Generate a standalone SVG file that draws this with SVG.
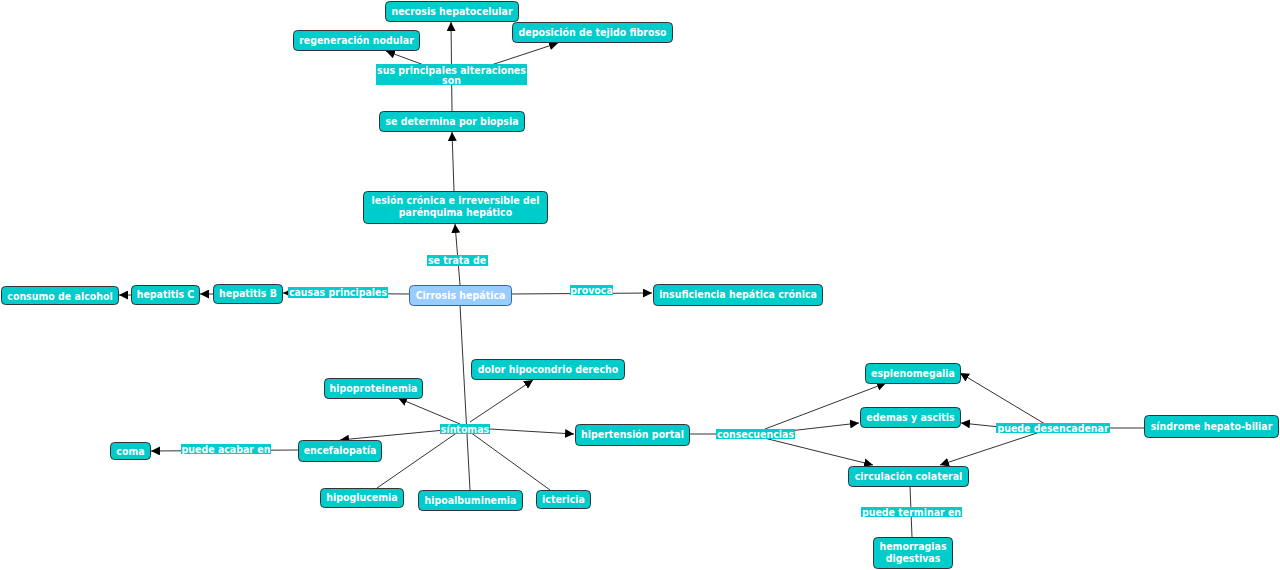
<svg xmlns="http://www.w3.org/2000/svg" width="1280" height="570" viewBox="0 0 1280 570">
<defs>
<marker id="ah" viewBox="0 0 10 10" refX="10" refY="5" markerWidth="9" markerHeight="9" markerUnits="userSpaceOnUse" orient="auto">
<path d="M0,0 L10,5 L0,10 z" fill="#000"/>
</marker>
<style>
.n rect{fill:#00cccc;stroke:#333;stroke-width:1}
.n.root rect{fill:#99ccff;stroke:#336699}
text{font-family:"DejaVu Sans Condensed","DejaVu Sans",sans-serif;font-stretch:condensed;font-weight:bold;font-size:10.5px;fill:#fff;text-anchor:middle}
.c line{stroke:#333;stroke-width:1;fill:none}
.a{marker-end:url(#ah)}
.l rect{fill:#00cccc}
</style>
</defs>
<rect width="1280" height="570" fill="#fff"/>
<g class="c">
<line x1="460" y1="285" x2="455" y2="224" class="a"/>
<line x1="454" y1="191" x2="452" y2="132" class="a"/>
<line x1="452" y1="111" x2="451" y2="22" class="a"/>
<line x1="432" y1="68" x2="386" y2="51" class="a"/>
<line x1="470" y1="72" x2="558" y2="43" class="a"/>
<line x1="409" y1="294" x2="283" y2="293" class="a"/>
<line x1="213" y1="294" x2="200" y2="294" class="a"/>
<line x1="131" y1="295" x2="119" y2="295" class="a"/>
<line x1="511" y1="294" x2="652" y2="293" class="a"/>
<line x1="460" y1="305" x2="470" y2="490"/>
<line x1="470" y1="422" x2="533" y2="380" class="a"/>
<line x1="460" y1="424" x2="398" y2="398" class="a"/>
<line x1="445" y1="430" x2="340" y2="440" class="a"/>
<line x1="490" y1="429" x2="574" y2="434" class="a"/>
<line x1="458" y1="432" x2="377" y2="488"/>
<line x1="470" y1="432" x2="550" y2="490"/>
<line x1="298" y1="450" x2="151" y2="451" class="a"/>
<line x1="689" y1="434" x2="716" y2="434"/>
<line x1="765" y1="429" x2="886" y2="383" class="a"/>
<line x1="780" y1="432" x2="859" y2="423" class="a"/>
<line x1="760" y1="437" x2="873" y2="465" class="a"/>
<line x1="1144" y1="428" x2="1110" y2="428"/>
<line x1="1045" y1="424" x2="960" y2="373" class="a"/>
<line x1="1000" y1="427" x2="961" y2="423" class="a"/>
<line x1="1040" y1="432" x2="940" y2="465" class="a"/>
<line x1="910" y1="486" x2="912" y2="537"/>
</g>
<g id="lbl-sus" class="l"><rect x="376" y="64" width="151" height="21"/><text x="451.5" y="73.5">sus principales alteraciones</text><text x="451.5" y="84">son</text></g>
<g id="lbl-trata" class="l"><rect x="427" y="255" width="61" height="11"/><text x="457" y="264">se trata de </text></g>
<g id="lbl-causas" class="l"><rect x="288" y="287" width="100" height="11"/><text x="338" y="296">causas principales</text></g>
<g id="lbl-provoca" class="l"><rect x="570" y="285" width="43" height="10"/><text x="591.5" y="294">provoca</text></g>
<g id="lbl-sintomas" class="l"><rect x="440" y="424" width="50" height="10"/><text x="465" y="433">síntomas</text></g>
<g id="lbl-acabar" class="l"><rect x="181" y="444" width="90" height="10"/><text x="226" y="453">puede acabar en</text></g>
<g id="lbl-consec" class="l"><rect x="716" y="429" width="79" height="10"/><text x="755.5" y="438">consecuencias</text></g>
<g id="lbl-desenc" class="l"><rect x="996" y="423" width="114" height="10"/><text x="1053" y="432">puede desencadenar</text></g>
<g id="lbl-terminar" class="l"><rect x="861" y="507" width="101" height="10"/><text x="911.5" y="516">puede terminar en</text></g>
<g id="n-necrosis" class="n"><rect x="385.5" y="1.5" width="133" height="20" rx="4"/><text x="452" y="14.5">necrosis hepatocelular</text></g>
<g id="n-regeneracion" class="n"><rect x="293.5" y="30.5" width="126" height="20" rx="4"/><text x="356.5" y="43.5">regeneración nodular</text></g>
<g id="n-deposicion" class="n"><rect x="512.5" y="22.5" width="160" height="20" rx="4"/><text x="592.5" y="35.5">deposición de tejido fibroso</text></g>
<g id="n-biopsia" class="n"><rect x="379.5" y="111.5" width="145" height="20" rx="4"/><text x="452" y="124.5">se determina por biopsia</text></g>
<g id="n-lesion" class="n"><rect x="363.5" y="191.5" width="184" height="32" rx="4"/><text x="455.5" y="204">lesión crónica e irreversible del</text><text x="455.5" y="216">parénquima hepático</text></g>
<g id="n-cirrosis" class="n root"><rect x="409.5" y="285.5" width="102" height="20" rx="4"/><text x="460.5" y="298.5">Cirrosis hepática</text></g>
<g id="n-hepB" class="n"><rect x="213.5" y="284.5" width="69" height="19" rx="4"/><text x="248" y="297">hepatitis B</text></g>
<g id="n-hepC" class="n"><rect x="131.5" y="285.5" width="68" height="19" rx="4"/><text x="165.5" y="298">hepatitis C</text></g>
<g id="n-alcohol" class="n"><rect x="1.5" y="286.5" width="117" height="18" rx="4"/><text x="60" y="299.5">consumo de alcohol</text></g>
<g id="n-insuf" class="n"><rect x="653.5" y="284.5" width="169" height="21" rx="4"/><text x="738" y="298">insuficiencia hepática crónica</text></g>
<g id="n-dolor" class="n"><rect x="471.5" y="359.5" width="153" height="20" rx="4"/><text x="548" y="372.5">dolor hipocondrio derecho</text></g>
<g id="n-hipoprot" class="n"><rect x="324.5" y="378.5" width="98" height="20" rx="4"/><text x="373.5" y="391.5">hipoproteinemia</text></g>
<g id="n-encef" class="n"><rect x="298.5" y="440.5" width="83" height="21" rx="4"/><text x="340" y="454">encefalopatía</text></g>
<g id="n-coma" class="n"><rect x="110.5" y="442.5" width="40" height="17" rx="4"/><text x="130.5" y="454.5">coma</text></g>
<g id="n-hipert" class="n"><rect x="575.5" y="424.5" width="114" height="21" rx="4"/><text x="632.5" y="438">hipertensión portal</text></g>
<g id="n-hipogluc" class="n"><rect x="320.5" y="488.5" width="83" height="19" rx="4"/><text x="362" y="500.5">hipoglucemia</text></g>
<g id="n-hipoalb" class="n"><rect x="418.5" y="490.5" width="104" height="20" rx="4"/><text x="470.5" y="503.5">hipoalbuminemia</text></g>
<g id="n-icter" class="n"><rect x="536.5" y="490.5" width="54" height="18" rx="4"/><text x="563.5" y="503">ictericia</text></g>
<g id="n-esplen" class="n"><rect x="865.5" y="363.5" width="95" height="20" rx="4"/><text x="913" y="376.5">esplenomegalia</text></g>
<g id="n-edemas" class="n"><rect x="860.5" y="407.5" width="100" height="20" rx="4"/><text x="910.5" y="420.5">edemas y ascitis</text></g>
<g id="n-circ" class="n"><rect x="848.5" y="466.5" width="120" height="20" rx="4"/><text x="908.5" y="479.5">circulación colateral</text></g>
<g id="n-sindrome" class="n"><rect x="1144.5" y="415.5" width="134" height="22" rx="4"/><text x="1211.5" y="430">síndrome hepato-biliar</text></g>
<g id="n-hemorr" class="n"><rect x="873.5" y="537.5" width="79" height="31" rx="4"/><text x="913" y="550">hemorragias</text><text x="913" y="562">digestivas</text></g>
</svg>
